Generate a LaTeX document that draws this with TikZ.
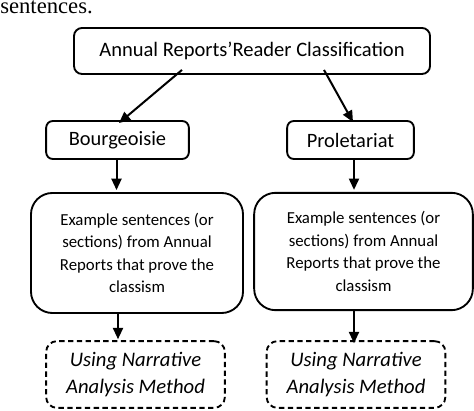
\documentclass[tikz,border=0pt]{standalone}
\usepackage{fontspec}
\setmainfont{Carlito}
\newfontfamily\serifcap{Liberation Serif}
\usetikzlibrary{arrows.meta,calc}
\begin{document}
\begin{tikzpicture}[x=0.75pt,y=0.75pt,
  box/.style={draw,line width=1.4pt,align=center,inner sep=0pt},
  arr/.style={line width=1.5pt,-{Triangle[length=8.5pt,width=7.5pt]}},
  dbox/.style={draw,line width=1.4pt,dash pattern=on 4pt off 2.6pt,align=center,inner sep=0pt,rounded corners=8pt,minimum width=134pt,minimum height=50pt,font=\fontsize{15.5}{20.2}\selectfont\itshape}]
\useasboundingbox (0,0) rectangle (474,410);
\node[anchor=base west,inner sep=0pt,font=\serifcap\fontsize{17}{18}\selectfont] (cap) at (0,396) {sentences.};
\node[box,rounded corners=6pt,minimum width=267pt,minimum height=34.5pt,font=\fontsize{15.4}{18}\selectfont] (top) at (252,359) {Annual Reports’Reader Classification};
\node[box,rounded corners=5pt,minimum width=107pt,minimum height=28.5pt,font=\fontsize{15.3}{18}\selectfont] (bour) at (117.5,270) {Bourgeoisie};
\node[box,rounded corners=5pt,minimum width=95pt,minimum height=28.5pt,font=\fontsize{15.3}{18}\selectfont] (prol) at (350.5,270) {Proletariat};
\node[box,rounded corners=16pt,minimum width=159pt,minimum height=90pt,font=\fontsize{12.6}{16.9}\selectfont] (exL) at (137,157) {Example sentences (or\\sections) from Annual\\Reports that prove the\\classism};
\node[box,rounded corners=16pt,minimum width=164pt,minimum height=88pt,font=\fontsize{12.6}{16.9}\selectfont] (exR) at (363.5,158.5) {Example sentences (or\\sections) from Annual\\Reports that prove the\\classism};
\node[dbox] (dL) at (135.5,35.5) {Using Narrative\\Analysis Method};
\node[dbox] (dR) at (356,35.5) {Using Narrative\\Analysis Method};
\draw[arr] ($(top.south)+(-70,5)$) -- ($(bour.north)+(1.5,-3)$);
\draw[arr] ($(top.south)+(72,5)$) -- ($(prol.north)+(2.5,-2)$);
\draw[arr] ($(bour.south)+(-1,0)$) -- ($(bour.south |- exL.north)+(-1,2)$);
\draw[arr] ($(prol.south)+(3.5,0)$) -- ($(prol.south |- exR.north)+(3.5,2)$);
\draw[arr] ($(exL.south)+(-19,0)$) -- ($(exL.south |- dL.north)+(-19,1)$);
\draw[arr] ($(exR.south)+(-9.5,0)$) -- ($(exR.south |- dR.north)+(-9.5,-3)$);
\end{tikzpicture}
\end{document}
